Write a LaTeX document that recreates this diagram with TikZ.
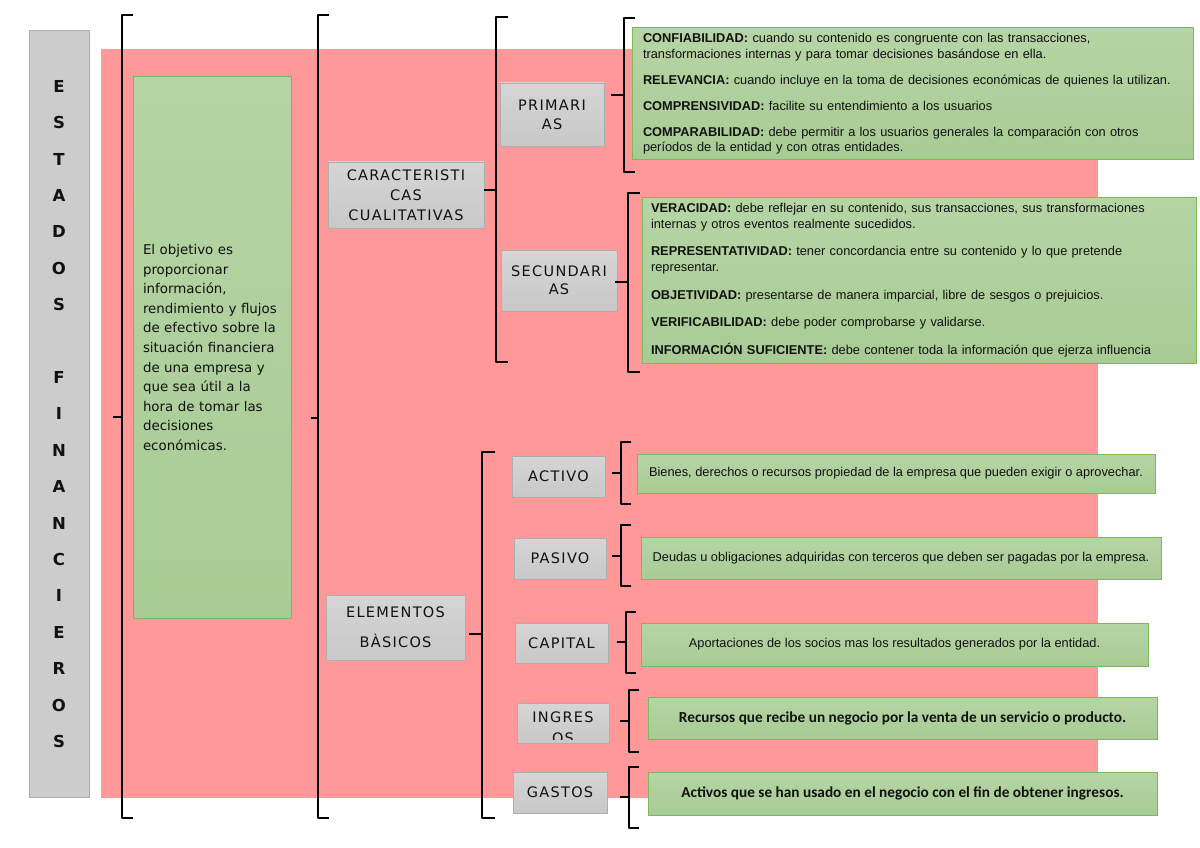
\documentclass[tikz,border=0pt]{standalone}
\usepackage{fontspec}
\setmainfont{Liberation Sans}
\newfontfamily\dvs{DejaVu Sans}
\newfontfamily\dvslab[LetterSpace=9]{DejaVu Sans}
\newfontfamily\carl{Carlito}
\definecolor{pinkbg}{HTML}{FF9999}
\definecolor{graytop}{HTML}{D5D5D5}
\definecolor{graybot}{HTML}{C8C8C8}
\definecolor{grayline}{HTML}{AEAEAE}
\definecolor{greentop}{HTML}{B6D5A5}
\definecolor{greenbot}{HTML}{A8CB94}
\definecolor{greenline}{HTML}{7CB95A}
\definecolor{txt}{HTML}{111111}
\tikzset{
  graybox/.style={draw=grayline, top color=graytop, bottom color=graybot, line width=0.8pt,
    inner sep=0pt, align=center, text=txt, font=\dvslab\fontsize{14.5}{19}\selectfont},
  greenbox/.style={draw=greenline, top color=greentop, bottom color=greenbot, line width=1pt,
    inner sep=0pt, text=txt},
  desc/.style={font=\fontsize{12.8}{15.5}\selectfont},
  boldcal/.style={font=\carl\bfseries\fontsize{15.3}{17}\selectfont},
  brk/.style={line width=2.6pt, black, line join=round}
}
\begin{document}
\begin{tikzpicture}[x=1pt,y=-1pt]
\useasboundingbox (0,0) rectangle (1200,848);
\fill[white] (0,0) rectangle (1200,848);
% pink background
\fill[pinkbg] (101,49) rectangle (1098,798);

% left title box
\node[draw=grayline, fill=graybot!70!graytop, line width=0.8pt, minimum width=60, minimum height=767,
  inner sep=0pt, align=center, text=txt, font=\dvs\bfseries\fontsize{16.5}{36.4}\selectfont]
  (estados) at (59,414) {E\\S\\T\\A\\D\\O\\S\\[36.4pt]F\\I\\N\\A\\N\\C\\I\\E\\R\\O\\S};

% objective box
\node[greenbox, minimum width=158, minimum height=541, text width=138, inner xsep=10,
  align=left, font=\dvs\fontsize{13.4}{19.6}\selectfont] (obj) at (212,347.5)
  {El objetivo es\\proporcionar\\información,\\rendimiento y flujos\\de efectivo sobre la\\situación financiera\\de una empresa y\\que sea útil a la\\hora de tomar las\\decisiones\\económicas.};

% level 2 boxes
\node[graybox, minimum width=156, minimum height=66, font=\dvslab\fontsize{14.5}{20}\selectfont]
  (carac) at (406,195) {CARACTERISTI\\CAS\\CUALITATIVAS};
\node[graybox, minimum width=139, minimum height=65, font=\dvslab\fontsize{14.5}{30}\selectfont]
  (elem) at (395.5,627.5) {ELEMENTOS\\BÀSICOS};

% level 3 boxes
\node[graybox, minimum width=104, minimum height=63] (prim) at (552,114.5) {PRIMARI\\AS};
\node[graybox, minimum width=116, minimum height=61, font=\dvslab\fontsize{14.5}{18}\selectfont]
  (sec) at (559,280.5) {SECUNDARI\\AS};
\node[graybox, minimum width=93, minimum height=41] (activo) at (558.5,476.5) {ACTIVO};
\node[graybox, minimum width=92, minimum height=41] (pasivo) at (560,558.5) {PASIVO};
\node[graybox, minimum width=93, minimum height=40] (capital) at (561.5,643) {CAPITAL};
\node[graybox, minimum width=92, minimum height=40] (ingresos) at (563,723) {};
\begin{scope}
  \clip ([yshift=4pt]ingresos.south west) rectangle (ingresos.north east);
  \node[align=center, text=txt, font=\dvslab\fontsize{14.5}{21}\selectfont, inner sep=0pt]
    (ingtxt) at (563,727.5) {INGRES\\OS};
\end{scope}
\node[graybox, minimum width=94, minimum height=41] (gastos) at (560,792.5) {GASTOS};

% description boxes
\node[greenbox, desc, minimum width=561, minimum height=132, text width=539, inner xsep=11,
  align=left] (g1) at (912.5,94)
  {\textbf{CONFIABILIDAD:} cuando su contenido es congruente con las transacciones,\\
   transformaciones internas y para tomar decisiones basándose en ella.\\[10.5pt]
   \textbf{RELEVANCIA:} cuando incluye en la toma de decisiones económicas de quienes la utilizan.\\[10.5pt]
   \textbf{COMPRENSIVIDAD:} facilite su entendimiento a los usuarios\\[10.5pt]
   \textbf{COMPARABILIDAD:} debe permitir a los usuarios generales la comparación con otros\\
   períodos de la entidad y con otras entidades.};
\node[greenbox, font=\fontsize{12.8}{16}\selectfont, minimum width=554, minimum height=166,
  text width=536, inner xsep=9, align=left] (g2) at (919,280)
  {\textbf{VERACIDAD:} debe reflejar en su contenido, sus transacciones, sus transformaciones\\
   internas y otros eventos realmente sucedidos.\\[11.5pt]
   \textbf{REPRESENTATIVIDAD:} tener concordancia entre su contenido y lo que pretende\\
   representar.\\[11.5pt]
   \textbf{OBJETIVIDAD:} presentarse de manera imparcial, libre de sesgos o prejuicios.\\[11.5pt]
   \textbf{VERIFICABILIDAD:} debe poder comprobarse y validarse.\\[11.5pt]
   \textbf{INFORMACIÓN SUFICIENTE:} debe contener toda la información que ejerza influencia};
\node[greenbox, desc, minimum width=518, minimum height=39] (ga) at (896,473.5)
  {Bienes, derechos o recursos propiedad de la empresa que pueden exigir o aprovechar.};
\node[greenbox, desc, minimum width=520, minimum height=42] (gp) at (901,558)
  {Deudas u obligaciones adquiridas con terceros que deben ser pagadas por la empresa.};
\node[greenbox, desc, minimum width=507, minimum height=43] (gc) at (894.5,644.5)
  {Aportaciones de los socios mas los resultados generados por la entidad.};
\node[greenbox, boldcal, minimum width=509, minimum height=42]
  (gi) at (902.5,718) {Recursos que recibe un negocio por la venta de un servicio o producto.};
\node[greenbox, boldcal, minimum width=509, minimum height=43]
  (gg) at (902.5,793.5) {Activos que se han usado en el negocio con el fin de obtener ingresos.};

% brackets
\draw[brk] (133,15) -- (122,15) -- (122,818) -- (133,818);
\draw[brk] (estados.east) ++(24,3) -- ++(9,0);
\draw[brk] (329,15) -- (318,15) -- (318,818) -- (329,818);
\draw[brk] (obj.east) ++(19,70.5) -- ++(8,0);
\draw[brk] (508,17) -- (496,17) -- (496,362) -- (508,362);
\draw[brk] (carac.east) ++(0,-5) -- ++(12,0);
\draw[brk] (635,18) -- (624,18) -- (624,172) -- (635,172);
\draw[brk] (prim.east) ++(7,-19.5) -- ++(13,0);
\draw[brk] (640,193) -- (628,193) -- (628,372) -- (640,372);
\draw[brk] (sec.east) ++(-2,1.5) -- ++(13,0);
\draw[brk] (495,452) -- (482,452) -- (482,818) -- (495,818);
\draw[brk] (elem.east) ++(4,6.5) -- ++(14,0);
\draw[brk] (631,442) -- (621,442) -- (621,504) -- (631,504);
\draw[brk] (activo.east) ++(7,-3.5) -- ++(9,0);
\draw[brk] (631,525) -- (621,525) -- (621,586) -- (631,586);
\draw[brk] (pasivo.east) ++(6,-2.5) -- ++(9,0);
\draw[brk] (636,612) -- (626,612) -- (626,673) -- (636,673);
\draw[brk] (capital.east) ++(9,-1) -- ++(9,0);
\draw[brk] (639,690) -- (629,690) -- (629,752) -- (639,752);
\draw[brk] (ingresos.east) ++(11,-2) -- ++(9,0);
\draw[brk] (639,767) -- (629,767) -- (629,828) -- (639,828);
\draw[brk] (gastos.east) ++(13,4.5) -- ++(9,0);
\end{tikzpicture}
\end{document}
